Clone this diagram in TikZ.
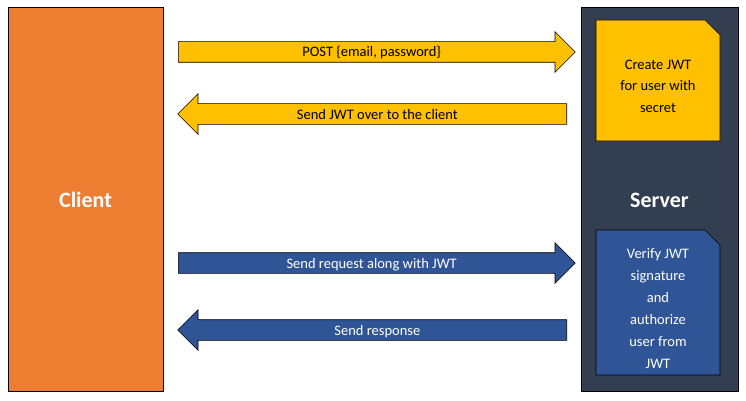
\documentclass[tikz,border=0pt]{standalone}
\usepackage{fontspec}
\setmainfont{Carlito}
\usetikzlibrary{shapes.arrows,positioning}
\definecolor{clorange}{HTML}{ED7D31}
\definecolor{svslate}{HTML}{333F50}
\definecolor{jwtyellow}{HTML}{FFC000}
\definecolor{jwtblue}{HTML}{2F5597}

\begin{document}
\begin{tikzpicture}[x=1pt,y=-1pt,
  box/.style={draw=black,line width=0.6pt},
  arr/.style={single arrow,draw=black,line width=0.6pt,
              single arrow head extend=10pt,inner ysep=0pt,inner xsep=0pt,
              text height=15pt,text depth=5pt,font=\fontsize{14.5}{16}\selectfont},
  doc/.style={box,line join=miter}
]
\useasboundingbox (0,0) rectangle (746,401);

% ---- Client / server blocks --------------------------------
\draw[box,fill=clorange] (8,7) rectangle (163,391);
\node[text=white,font=\fontsize{22}{24}\selectfont\bfseries] (cli) at (85.5,200) {Client};
\draw[box,fill=svslate] (581,7) rectangle (738,391);
\node[text=white,font=\fontsize{22}{24}\selectfont\bfseries] (srv) at (659.5,200) {Server};

% ---- Documents inside server -------------------------------
\draw[doc,fill=jwtyellow] (596,20) -- (705,20) -- (720,35) -- (720,141) -- (596,141) -- cycle;
\node[align=center,font=\fontsize{14.5}{21.5}\selectfont] (crt) at (658,86) {Create JWT\\for user with\\secret};
\draw[doc,fill=jwtblue] (596,230) -- (705,230) -- (720,245) -- (720,375) -- (596,375) -- cycle;
\node[align=center,text=white,font=\fontsize{14.5}{22}\selectfont] (vfy) at (658,309)
  {Verify JWT\\signature\\and\\authorize\\user from\\JWT};

% ---- Arrows ------------------------------------------------
\node[arr,fill=jwtyellow,minimum height=397pt,anchor=tail] (post) at (178,52) {POST \{email, password\}};
\node[arr,fill=jwtyellow,minimum height=389pt,shape border rotate=180,anchor=tail] (send) at (567,114)
  {Send JWT over to the client};
\node[arr,fill=jwtblue,text=white,minimum height=397pt,anchor=tail] (req) at (178,263) {Send request along with JWT};
\node[arr,fill=jwtblue,text=white,minimum height=389pt,shape border rotate=180,anchor=tail] (res) at (567,330)
  {Send response};

\end{tikzpicture}
\end{document}
